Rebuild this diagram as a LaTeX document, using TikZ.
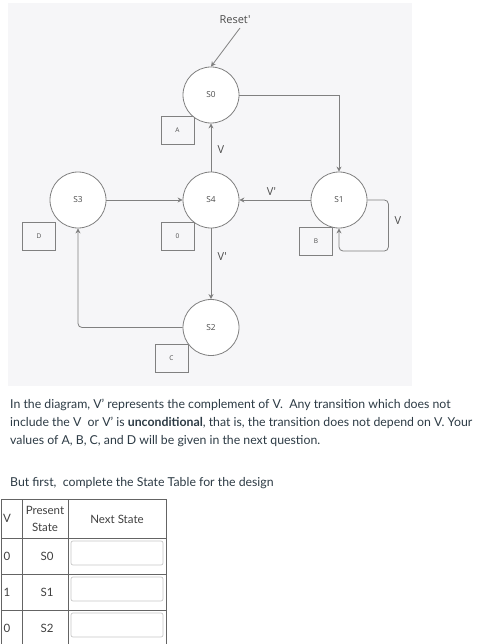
\documentclass[tikz,border=0pt]{standalone}
\usepackage{fontspec}
\setmainfont{Lato}
\newfontfamily\diagfont{Open Sans}
\usetikzlibrary{arrows.meta}
\definecolor{bgpanel}{RGB}{246,246,248}
\definecolor{linegray}{RGB}{128,128,128}
\definecolor{txtdark}{RGB}{45,59,69}
\definecolor{tblline}{RGB}{100,100,100}
\definecolor{inbox}{RGB}{200,200,200}
\tikzset{
  statenode/.style={circle, draw=linegray, fill=white, line width=0.8pt, minimum size=56pt, inner sep=0pt, font=\diagfont\fontsize{8.3}{9}\selectfont, text=black!70},
  valbox/.style={rectangle, draw=linegray, fill=bgpanel, line width=0.7pt, minimum width=33pt, minimum height=28pt, inner sep=0pt, font=\diagfont\fontsize{6.5}{7}\selectfont, text=black!70},
  arr/.style={draw=linegray, line width=0.8pt, -{Stealth[length=5pt,width=5pt]}},
  cond/.style={font=\diagfont\fontsize{11}{12}\selectfont, text=black!70},
  para/.style={anchor=base west, inner sep=0pt, font=\fontsize{12.3}{14}\selectfont, text=txtdark},
  tbl/.style={font=\fontsize{11.5}{13}\selectfont, text=black!75, inner sep=0pt},
  field/.style={draw=inbox, fill=white, rounded corners=2pt, line width=0.7pt}
}
\begin{document}
\begin{tikzpicture}[x=1pt,y=-1pt]
\useasboundingbox (0,0) rectangle (484,644);
\fill[white] (0,0) rectangle (484,644);
\fill[bgpanel] (8,3) rectangle (412,386);
% value boxes
\node[valbox] (ba) at (177.5,130.5) {A};
\node[valbox] (bd) at (39,236) {D};
\node[valbox] (bz) at (177.5,236) {0};
\node[valbox] (bb) at (316,241.5) {B};
\node[valbox] (bc) at (171.5,358) {C};
% states
\node[statenode] (s0) at (211,95) {S0};
\node[statenode] (s4) at (211,200) {S4};
\node[statenode] (s3) at (78,200) {S3};
\node[statenode] (s1) at (339,200) {S1};
\node[statenode] (s2) at (211,327.5) {S2};
% reset
\node[cond, anchor=center] (rst) at (235,20) {Reset'};
\coordinate (rs) at (240,28);
\draw[arr] (rs) -- (s0.north);
% transitions
\draw[arr] (s0.east) -| (s1.north);
\draw[arr] (s4.north) -- node[cond, right=3pt, pos=0.45] (lv) {V} (s0.south);
\draw[arr] (s1.west) -- node[cond, above=1pt, pos=0.55] (lvp1) {V'} (s4.east);
\draw[arr] (s3.east) -- (s4.west);
\draw[arr] (s4.south) -- node[cond, right=3pt, pos=0.4] (lvp2) {V'} (s2.north);
\draw[arr, rounded corners=4pt] (s2.west) -| (s3.south);
\draw[arr, rounded corners=4pt] (s1.east) -- ++(21,0) -- ++(0,51) -| (s1.south);
\node[cond] (lv2) at (398,221) {V};
% text
\node[para] (p1) at (10,408) {In the diagram, V' represents the complement of V.\ \ Any transition which does not};
\node[para] (p2) at (10,426) {include the V\ \ or V' is \textbf{unconditional}, that is, the transition does not depend on V. Your};
\node[para] (p3) at (10,444) {values of A, B, C, and D will be given in the next question.};
\node[para] (p4) at (10,486) {But first,\ \ complete the State Table for the design};
% table
\draw[tblline, line width=0.7pt] (1.5,499) -- (166,499) (1.5,538) -- (166,538) (1.5,574) -- (166,574) (1.5,610) -- (166,610)
  (1.5,499) -- (1.5,644) (22,499) -- (22,644) (68.5,499) -- (68.5,644) (166,499) -- (166,644);
\node[tbl, anchor=west] (hv) at (3,518) {V};
\node[tbl] (hp1) at (45,510) {Present};
\node[tbl] (hp2) at (45,527) {State};
\node[tbl] (hn) at (117,519) {Next State};
\node[tbl, anchor=west] (v1) at (3.5,556) {0};
\node[tbl, anchor=west] (v2) at (3.5,592) {1};
\node[tbl, anchor=west] (v3) at (3.5,628) {0};
\node[tbl] (ps1) at (47,556) {S0};
\node[tbl] (ps2) at (47,592) {S1};
\node[tbl] (ps3) at (47,628) {S2};
\draw[field] (71,541) rectangle (163,565);
\draw[field] (71,577) rectangle (163,601);
\draw[field] (71,613) rectangle (163,637);
\end{tikzpicture}
\end{document}
